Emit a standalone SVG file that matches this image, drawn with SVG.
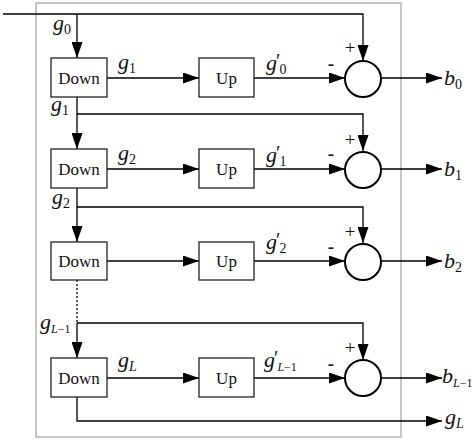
<svg xmlns="http://www.w3.org/2000/svg" width="474" height="440" viewBox="0 0 474 440">
<defs>
<marker id="ah" markerWidth="16" markerHeight="11" refX="16" refY="5.5" orient="auto" markerUnits="userSpaceOnUse">
<path d="M0,0 L16,5.5 L0,11 z" fill="#000"/>
</marker>
<style>
.frame{fill:none;stroke:#b4b4b4;stroke-width:1.5}
.box{fill:#fff;stroke:#222;stroke-width:1.3}
.sum{fill:#fff;stroke:#000;stroke-width:2}
.ar{fill:none;stroke:#000;stroke-width:1.3;marker-end:url(#ah)}
.dot{fill:none;stroke:#000;stroke-width:1.3;stroke-dasharray:2,2}
.bt{font-family:"Liberation Serif",serif;font-size:17px;text-anchor:middle;fill:#111}
.v{font-family:"Liberation Serif",serif;font-size:22px;font-style:italic;fill:#111}
.s{font-size:14px;font-style:normal}
.si{font-size:14px;font-style:italic}
.ss{font-size:12px;font-style:normal}
.ssi{font-size:12px;font-style:italic}
.pr{font-style:normal;font-size:20px}
.sg{font-family:"Liberation Serif",serif;font-size:19px;fill:#111;text-anchor:middle}
</style>
</defs>
<rect class="frame" x="36" y="3" width="365" height="434"/>
<g id="connectors">
<polyline class="ar" points="3,14 363,14 363,61"/>
<line class="ar" x1="77" y1="14" x2="77" y2="58"/>
<line class="ar" x1="107" y1="78" x2="199" y2="78"/>
<line class="ar" x1="254" y1="78" x2="345" y2="78"/>
<line class="ar" x1="381" y1="78" x2="442" y2="78"/>
<line class="ar" x1="77" y1="97" x2="77" y2="149"/>
<polyline class="ar" points="77,114 363,114 363,151"/>
<line class="ar" x1="107" y1="169" x2="199" y2="169"/>
<line class="ar" x1="254" y1="169" x2="345" y2="169"/>
<line class="ar" x1="381" y1="169" x2="442" y2="169"/>
<line class="ar" x1="77" y1="188" x2="77" y2="242"/>
<polyline class="ar" points="77,207 363,207 363,243"/>
<line class="ar" x1="107" y1="261" x2="199" y2="261"/>
<line class="ar" x1="254" y1="261" x2="345" y2="261"/>
<line class="ar" x1="381" y1="261" x2="442" y2="261"/>
<line class="dot" x1="77" y1="280" x2="77" y2="323"/>
<line class="ar" x1="77" y1="323" x2="77" y2="358"/>
<polyline class="ar" points="77,323 363,323 363,360"/>
<line class="ar" x1="107" y1="378" x2="199" y2="378"/>
<line class="ar" x1="254" y1="378" x2="345" y2="378"/>
<line class="ar" x1="381" y1="378" x2="442" y2="378"/>
<polyline class="ar" points="77,397 77,421 442,421"/>
</g>
<g id="down0"><rect class="box" x="51" y="58" width="56" height="39"/><text class="bt" x="79" y="84">Down</text></g>
<g id="up0"><rect class="box" x="199" y="58" width="55" height="39"/><text class="bt" x="226.5" y="84">Up</text></g>
<g id="sum0"><circle class="sum" cx="363" cy="79" r="18"/></g>
<g id="down1"><rect class="box" x="51" y="149" width="56" height="39"/><text class="bt" x="79" y="175">Down</text></g>
<g id="up1"><rect class="box" x="199" y="149" width="55" height="39"/><text class="bt" x="226.5" y="175">Up</text></g>
<g id="sum1"><circle class="sum" cx="363" cy="170" r="18"/></g>
<g id="down2"><rect class="box" x="51" y="242" width="56" height="38"/><text class="bt" x="79" y="267">Down</text></g>
<g id="up2"><rect class="box" x="199" y="242" width="55" height="38"/><text class="bt" x="226.5" y="267">Up</text></g>
<g id="sum2"><circle class="sum" cx="363" cy="262" r="18"/></g>
<g id="down3"><rect class="box" x="51" y="358" width="56" height="39"/><text class="bt" x="79" y="384">Down</text></g>
<g id="up3"><rect class="box" x="199" y="358" width="55" height="39"/><text class="bt" x="226.5" y="384">Up</text></g>
<g id="sum3"><circle class="sum" cx="363" cy="378" r="18"/></g>
<g id="labels">
<text class="v" x="53" y="30">g<tspan class="s" dy="4">0</tspan></text>
<text class="v" x="118" y="69">g<tspan class="s" dy="4">1</tspan></text>
<text class="v" x="266" y="70">g<tspan class="pr" dx="-1" dy="-2">′</tspan><tspan class="s" dx="-1" dy="6">0</tspan></text>
<text class="v" x="51" y="111">g<tspan class="s" dy="4">1</tspan></text>
<text class="v" x="118" y="160">g<tspan class="s" dy="4">2</tspan></text>
<text class="v" x="266" y="162">g<tspan class="pr" dx="-1" dy="-2">′</tspan><tspan class="s" dx="-1" dy="6">1</tspan></text>
<text class="v" x="52" y="204">g<tspan class="s" dy="4">2</tspan></text>
<text class="v" x="266" y="249">g<tspan class="pr" dx="-1" dy="-2">′</tspan><tspan class="s" dx="-1" dy="6">2</tspan></text>
<text class="v" x="40" y="329">g<tspan class="ssi" dy="4">L</tspan><tspan class="ss">−1</tspan></text>
<text class="v" x="118" y="367">g<tspan class="si" dy="4">L</tspan></text>
<text class="v" x="264" y="367">g<tspan class="pr" dx="-1" dy="-2">′</tspan><tspan class="ssi" dx="-1" dy="6">L</tspan><tspan class="ss">−1</tspan></text>
<text class="v" x="444" y="85">b<tspan class="s" dy="4">0</tspan></text>
<text class="v" x="444" y="176">b<tspan class="s" dy="4">1</tspan></text>
<text class="v" x="444" y="268">b<tspan class="s" dy="4">2</tspan></text>
<text class="v" x="442" y="383">b<tspan class="ssi" dy="4">L</tspan><tspan class="ss">−1</tspan></text>
<text class="v" x="445" y="424">g<tspan class="si" dy="4">L</tspan></text>
<text class="sg" x="350" y="54">+</text>
<text class="sg" x="350" y="146">+</text>
<text class="sg" x="350" y="238">+</text>
<text class="sg" x="350" y="354">+</text>
<text class="sg" x="331" y="70" style="font-weight:bold">-</text>
<text class="sg" x="331" y="160" style="font-weight:bold">-</text>
<text class="sg" x="331" y="253" style="font-weight:bold">-</text>
<text class="sg" x="331" y="370" style="font-weight:bold">-</text>
</g>
</svg>
